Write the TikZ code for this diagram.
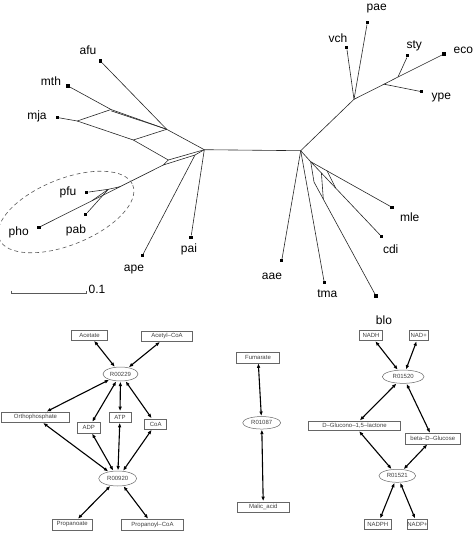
\documentclass[tikz,border=0pt]{standalone}
\usepackage{fontspec}
\setmainfont{Liberation Sans}
\usetikzlibrary{arrows.meta,shapes.geometric}
\tikzset{
  branch/.style = {draw=black!85, line width=0.6pt},
  leaf/.style = {fill=black, inner sep=0pt, minimum size=3.3pt},
  taxon/.style = {font=\fontsize{12}{12}\selectfont, text height=8.6pt, text depth=2.5pt, inner sep=0pt},
  metab/.style = {draw=black!60, line width=0.5pt, font=\fontsize{6}{6}\selectfont, text=black!75, inner sep=0pt, minimum height=10.5pt},
  rxn/.style = {ellipse, draw=black!60, line width=0.5pt, font=\fontsize{6}{6}\selectfont, text=black!75, inner sep=0pt},
  flux/.style = {line width=1.1pt, {Latex[length=4.5pt,width=3.6pt]}-{Latex[length=4.5pt,width=3.6pt]}, shorten <=0.3pt, shorten >=0.3pt}
}
\begin{document}
\begin{tikzpicture}[x=1pt, y=-1pt]
  \useasboundingbox (0,0) rectangle (474,533);
  % tree, left part
  \coordinate (H) at (204.3,149.7);
  \coordinate (A1) at (166.7,129.3);
  \coordinate (A2) at (111,109.5);
  \coordinate (A3) at (77.3,121);
  \coordinate (A4) at (133.3,140);
  \coordinate (P1) at (168.3,160);
  \coordinate (P2) at (163.3,165);
  \coordinate (Q) at (195,155);
  \coordinate (C1) at (120,186.7);
  \coordinate (R1) at (91.7,200.9);
  \coordinate (N1) at (108.3,189.3);
  \node[leaf] (afu) at (100.3,61) {};
  \node[leaf] (mth) at (68,86) {};
  \node[leaf] (mja) at (57.3,117.5) {};
  \node[leaf] (pfu) at (86.7,192.3) {};
  \node[leaf] (pab) at (85.7,214.5) {};
  \node[leaf] (pho) at (39,227.3) {};
  \node[leaf] (ape) at (142.3,255.7) {};
  \node[leaf] (pai) at (191,237.3) {};
  \draw[branch] (H) -- (A1) -- (afu);
  \draw[branch] (A1) -- (A2) -- (mth);
  \draw[branch] (A1) -- ([yshift=-1.3pt]A2);
  \draw[branch] (A2) -- (A3) -- (mja);
  \draw[branch] (A3) -- (A4) -- (A1);
  \draw[branch] (A4) -- (P1) -- (H);
  \draw[branch] (P1) -- (P2) -- (Q) -- (H);
  \draw[branch] (Q) -- (ape);
  \draw[branch] (H) -- (pai);
  \draw[branch] (P2) -- (C1) -- (R1) -- (pho);
  \draw[branch] (C1) -- (N1) -- (pfu);
  \draw[branch] (N1) -- (pab);
  \draw[branch] (N1) -- (R1);
  % tree, right part
  \coordinate (R) at (300.7,150.7);
  \coordinate (B1) at (354,99.3);
  \coordinate (B2) at (384,84.2);
  \coordinate (B3) at (398,77);
  \coordinate (M1) at (310.7,161.7);
  \coordinate (Ma) at (314,182);
  \coordinate (Pa) at (327,170.8);
  \coordinate (Pb) at (335.6,187.9);
  \coordinate (Pc) at (321.4,172.9);
  \coordinate (Pd) at (323.3,199.1);
  \node[leaf] (vch) at (346.7,47.7) {};
  \node[leaf] (pae) at (367.3,22.7) {};
  \node[leaf] (sty) at (407.7,55.7) {};
  \node[leaf] (eco) at (444,54) {};
  \node[leaf] (ype) at (421.7,91.7) {};
  \node[leaf] (mle) at (392,207.3) {};
  \node[leaf] (cdi) at (381.7,236.7) {};
  \node[leaf] (blo) at (376,296) {};
  \node[leaf] (tma) at (324.3,282.7) {};
  \node[leaf] (aae) at (281.7,260.7) {};
  \draw[branch] (H) -- (R);
  \draw[branch] (R) -- (B1) -- (vch);
  \draw[branch] (B1) -- (pae);
  \draw[branch] (B1) -- (B2) -- (ype);
  \draw[branch] (B2) -- (B3) -- (eco);
  \draw[branch] (B3) -- (sty);
  \draw[branch] (R) -- (M1) -- (mle);
  \draw[branch] (M1) -- (cdi);
  \draw[branch] (M1) -- (Ma) -- (blo);
  \draw[branch] (Pa) -- (Pb);
  \draw[branch] (Pc) -- (Pd);
  \draw[branch] (R) -- (tma);
  \draw[branch] (R) -- (aae);
  % taxon names
  \node[taxon] at (88,51) {afu};
  \node[taxon] at (51,82) {mth};
  \node[taxon] at (37,116) {mja};
  \node[taxon] at (68,192) {pfu};
  \node[taxon] at (76,230) {pab};
  \node[taxon] at (18.7,232) {pho};
  \node[taxon] at (134,268) {ape};
  \node[taxon] at (189,249) {pai};
  \node[taxon] at (272,276) {aae};
  \node[taxon] at (327.3,294.3) {tma};
  \node[taxon] at (384,321) {blo};
  \node[taxon] at (390.7,250) {cdi};
  \node[taxon] at (409.7,218.3) {mle};
  \node[taxon] at (338,39) {vch};
  \node[taxon] at (376.7,7.5) {pae};
  \node[taxon] at (414.3,45.7) {sty};
  \node[taxon] at (463.3,50.7) {eco};
  \node[taxon] at (441.3,96.7) {ype};
  % cluster and scale
  \draw[black!65, line width=0.6pt, dash pattern=on 4pt off 3pt, rotate around={22:(66,212)}] (66,212) ellipse [x radius=72, y radius=33];
  \draw[black!65, line width=0.6pt] (11,290.5) -- (11,293) -- (86,293) -- (86,290.5);
  \node[taxon, anchor=base west] at (88.5,293) {0.1};
  % pathway R00229 / R00920
  \node[metab, minimum width=35.6pt] (acetate) at (89.5,335) {Acetate};
  \node[metab, minimum width=50.6pt] (acetylcoa) at (167,336.2) {Acetyl--CoA};
  \node[rxn, minimum width=35pt, minimum height=14pt] (r229) at (120.5,374) {R00229};
  \node[metab, minimum width=67.6pt] (ortho) at (35.5,417.2) {Orthophosphate};
  \node[metab, minimum width=22.3pt] (adp) at (88.8,427.7) {ADP};
  \node[metab, minimum width=22pt] (atp) at (120,417) {ATP};
  \node[metab, minimum width=22pt] (coa) at (155.7,424) {CoA};
  \node[rxn, minimum width=38pt, minimum height=15pt] (r920) at (117.7,478.5) {R00920};
  \node[metab, minimum width=39.7pt] (propanoate) at (72.2,524.5) {Propanoate};
  \node[metab, minimum width=61.6pt] (propanoylcoa) at (152.5,524.5) {Propanoyl--CoA};
  \draw[flux] (acetate) -- (r229);
  \draw[flux] (acetylcoa) -- (r229);
  \draw[flux] (r229) -- (ortho);
  \draw[flux] (r229) -- (adp);
  \draw[flux] (r229) -- (atp);
  \draw[flux] (r229) -- (coa);
  \draw[flux] (ortho) -- (r920);
  \draw[flux] (adp) -- (r920);
  \draw[flux] (atp) -- (r920);
  \draw[flux] (coa) -- (r920);
  \draw[flux] (r920) -- (propanoate);
  \draw[flux] (r920) -- (propanoylcoa);
  % pathway R01087
  \node[metab, minimum width=42.6pt] (fumarate) at (258,357.5) {Fumarate};
  \node[rxn, minimum width=38pt, minimum height=12.5pt] (r1087) at (261.7,422.8) {R01087};
  \node[metab, minimum width=52pt] (malic) at (263.3,507) {Malic\_acid};
  \draw[flux] (fumarate) -- (r1087);
  \draw[flux] (r1087) -- (malic);
  % pathway R01520 / R01521
  \node[metab, minimum width=23.4pt, minimum height=10pt] (nadh) at (371,335.7) {NADH};
  \node[metab, minimum width=19.3pt, minimum height=10pt] (nadplus) at (418.7,335.7) {NAD+};
  \node[rxn, minimum width=41.7pt, minimum height=13.3pt] (r1520) at (403.2,376.7) {R01520};
  \node[metab, minimum width=92.4pt, minimum height=9.7pt] (glucono) at (354.5,425.8) {D--Glucono--1,5--lactone};
  \node[metab, minimum width=55.7pt] (glucose) at (432.8,438.7) {beta--D--Glucose};
  \node[rxn, minimum width=36.7pt, minimum height=13pt] (r1521) at (397.3,475.8) {R01521};
  \node[metab, minimum width=27.7pt, minimum height=10.3pt] (nadph) at (377.8,524.2) {NADPH};
  \node[metab, minimum width=18.4pt, minimum height=10.3pt] (nadpplus) at (417.5,524.2) {NADP+};
  \draw[flux] (nadh) -- (r1520);
  \draw[flux] (nadplus) -- (r1520);
  \draw[flux] (r1520) -- (glucono);
  \draw[flux] (r1520) -- (glucose);
  \draw[flux] (glucono) -- (r1521);
  \draw[flux] (glucose) -- (r1521);
  \draw[flux] (r1521) -- (nadph);
  \draw[flux] (r1521) -- (nadpplus);
\end{tikzpicture}
\end{document}
